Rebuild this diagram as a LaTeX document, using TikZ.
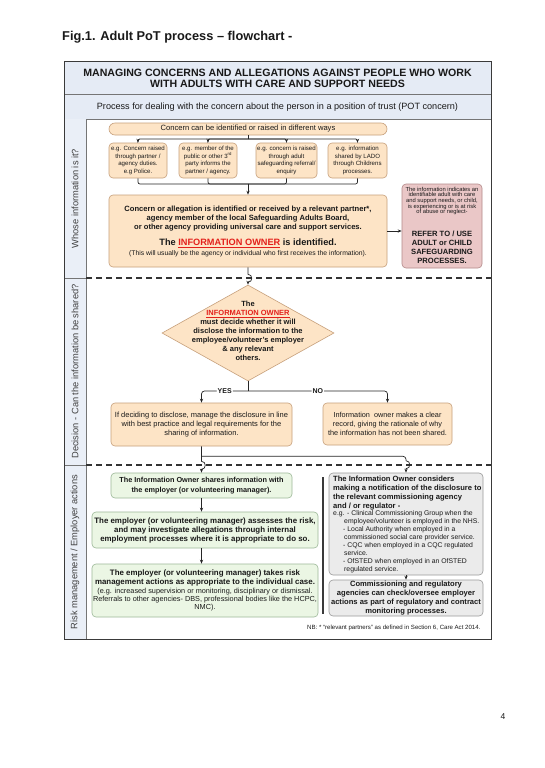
\documentclass[tikz,border=0pt]{standalone}
\usepackage{fontspec}
\setmainfont{Liberation Sans}
\usetikzlibrary{arrows.meta,calc,shapes.geometric}
\definecolor{peach}{HTML}{FDE4C6}
\definecolor{peachb}{HTML}{C7A07C}
\definecolor{pinkf}{HTML}{EAC7C7}
\definecolor{pinkb}{HTML}{B48A8A}
\definecolor{greenf}{HTML}{EBF6E4}
\definecolor{greenb}{HTML}{9CB898}
\definecolor{greyf}{HTML}{EBEBEB}
\definecolor{greyb}{HTML}{9A9A9A}
\definecolor{hdr}{HTML}{E5EBF5}
\definecolor{framec}{HTML}{3A3A3A}
\definecolor{redtxt}{HTML}{E3201B}
\newcommand{\myfs}[2]{\fontsize{#1}{#2}\selectfont}
\newcommand{\infoowner}{\textcolor{redtxt}{\underline{INFORMATION OWNER}}}
\begin{document}
\begin{tikzpicture}[x=1pt,y=-1pt,
  conn/.style={draw=black!85,line width=0.7pt},
  arr/.style={conn,-{Stealth[length=4pt,width=3.2pt]}},
  box/.style={rounded corners=4pt,line width=0.6pt,inner sep=0pt,align=center,text=black!90},
  pbox/.style={box,draw=peachb,fill=peach},
  kbox/.style={box,draw=pinkb,fill=pinkf},
  gbox/.style={box,draw=greenb,fill=greenf},
  ybox/.style={box,draw=greyb,fill=greyf},
  txt/.style={inner sep=0pt,align=center,text=black!90},
  sect/.style={draw=black!80,line width=1.3pt,dash pattern=on 6pt off 4pt},
  side/.style={txt,rotate=90,font=\myfs{9.3}{11},text=black!75},
  yn/.style={fill=white,inner sep=1pt,font=\bfseries\myfs{7}{8},text=black!90},
]
\useasboundingbox (0,0) rectangle (544,768);
\fill[white] (0,0) rectangle (544,768);

% title
\node[txt,anchor=west,font=\bfseries\myfs{12.8}{14}] (title) at (62,37) {Fig.1. Adult PoT process – flowchart -};

% header
\fill[hdr] (64,62) rectangle (491,119);
\draw[framec!70,line width=0.6pt] (64,94) -- (491,94);
\draw[framec!70,line width=0.6pt] (64,119) -- (491,119);
\node[txt,font=\bfseries\myfs{10.6}{11.5}] (hd1) at (277.5,78.5) {MANAGING CONCERNS AND ALLEGATIONS AGAINST PEOPLE WHO WORK\\WITH ADULTS WITH CARE AND SUPPORT NEEDS};
\node[txt,font=\myfs{9.1}{10}] (hd2) at (277.5,107) {Process for dealing with the concern about the person in a position of trust (POT concern)};

% left column
\fill[hdr!80] (64,119) rectangle (86,639);
\draw[framec!70,line width=0.6pt] (86,119) -- (86,639);
\draw[framec!70,line width=0.6pt] (64,278) -- (86,278);
\draw[framec!70,line width=0.6pt] (64,465) -- (86,465);
\node[side] (s1) at (75,198.5) {Whose information is it?};
\node[side] (s2) at (75,371.5) {Decision - Can the information be shared?};
\node[side] (s3) at (75,552) {Risk management / Employer actions};

% section separators
\draw[sect] (86,278) -- (493,278);
\draw[sect] (86,465) -- (493,465);

% ---------- section 1
\node[pbox,rounded corners=6pt,minimum width=278pt,minimum height=12pt,font=\myfs{7.6}{8}] (pill) at (248,129) {Concern can be identified or raised in different ways};
\node[pbox,minimum width=58pt,minimum height=35pt,font=\myfs{6.1}{7.6}] (b1) at (138,160.5) {e.g. Concern raised\\through partner /\\agency duties.\\e.g Police.};
\node[pbox,minimum width=58pt,minimum height=35pt,font=\myfs{6.1}{7.6}] (b2) at (208,160.5) {e.g. member of the\\public or other 3\textsuperscript{rd}\\party informs the\\partner / agency.};
\node[pbox,minimum width=61pt,minimum height=35pt,font=\myfs{6.1}{7.6}] (b3) at (286.5,160.5) {e.g. concern is raised\\through adult\\safeguarding referral/\\enquiry};
\node[pbox,minimum width=59pt,minimum height=35pt,font=\myfs{6.1}{7.6}] (b4) at (357.5,160.5) {e.g. information\\shared by LADO\\through Childrens\\processes.};

\coordinate (tb) at (248,139);
\draw[conn] (pill.south) -- (tb);
\foreach \b in {b1,b2,b3,b4}{\draw[arr,rounded corners=2pt] (tb) -| (\b.north);}

\node[pbox,minimum width=278pt,minimum height=72pt] (big) at (248,231) {};
\node[txt,font=\bfseries\myfs{7.6}{9}] (bigt1) at (248,219) {Concern or allegation is identified or received by a relevant partner*,\\agency member of the local Safeguarding Adults Board,\\or other agency providing universal care and support services.};
\node[txt,font=\bfseries\myfs{9.2}{11}] (bigt2) at (248,243.5) {The \infoowner{} is identified.};
\node[txt,font=\myfs{6.8}{7}] (bigt3) at (248,253.5) {(This will usually be the agency or individual who first receives the information).};

\coordinate (bb) at (248,184);
\foreach \b in {b1,b2,b3,b4}{\draw[conn,rounded corners=2pt] (\b.south) |- (bb);}
\draw[arr] (bb) -- (big.north);

\node[kbox,minimum width=80pt,minimum height=84pt] (pink) at (442,226) {};
\node[txt,font=\myfs{5.8}{5.6}] (pinkt1) at (442,201) {The information indicates an\\identifiable adult with care\\and support needs, or child,\\is experiencing or is at risk\\of abuse or neglect-};
\node[txt,font=\bfseries\myfs{7.6}{9}] (pinkt2) at (442,247.5) {REFER TO / USE\\ADULT or CHILD\\SAFEGUARDING\\PROCESSES.};
\draw[arr] (big.east) -- (big.east -| pink.west);

% ---------- section 2
\node[diamond,draw=peachb,fill=peach,line width=0.6pt,inner sep=0pt,minimum width=172pt,minimum height=96pt] (dia) at (248,333) {};
\node[txt,font=\bfseries\myfs{7.5}{9}] (diat) at (248,331) {The\\\infoowner\\must decide whether it will\\disclose the information to the\\employee/volunteer's employer\\\& any relevant\\others.};
\draw[arr] (big.south) -- ($(big.south)+(0,7)$) .. controls ($(big.south)+(5,7)$) and ($(big.south)+(5,15)$) .. ($(big.south)+(0,15)$) -- (dia.north);

\node[pbox,minimum width=181pt,minimum height=43pt,font=\myfs{7.5}{9}] (dl) at (201.5,424.5) {If deciding to disclose, manage the disclosure in line\\with best practice and legal requirements for the\\sharing of information.};
\node[pbox,minimum width=129pt,minimum height=42pt,font=\myfs{7.3}{9}] (dr) at (387.5,424) {Information\ \ owner makes a clear\\record, giving the rationale of why\\the information has not been shared.};

\coordinate (ynp) at (248,391);
\draw[conn] (dia.south) -- (ynp);
\draw[arr,rounded corners=3pt] (ynp) -| (dl.north) node[yn,pos=0.25] {YES};
\draw[arr,rounded corners=3pt] (ynp) -| (dr.north) node[yn,pos=0.25] {NO};

% ---------- section 3
\node[gbox,minimum width=181pt,minimum height=25pt,font=\bfseries\myfs{7.3}{10}] (g1) at (201.5,485.5) {The Information Owner shares information with\\the employer (or volunteering manager).};
\node[gbox,minimum width=226pt,minimum height=36pt,font=\bfseries\myfs{7.9}{9}] (g2) at (205,530) {The employer (or volunteering manager) assesses the risk,\\and may investigate allegations through internal\\employment processes where it is appropriate to do so.};
\node[gbox,minimum width=226pt,minimum height=53pt] (g3) at (205,590.5) {};
\node[txt,font=\bfseries\myfs{7.9}{9}] (g3t1) at (205,577.5) {The employer (or volunteering manager) takes risk\\management actions as appropriate to the individual case.};
\node[txt,font=\myfs{7.3}{8}] (g3t2) at (205,600) {(e.g. increased supervision or monitoring, disciplinary or dismissal.\\Referrals to other agencies- DBS, professional bodies like the HCPC,\\NMC).};

\draw[arr] (dl.south) -- ($(dl.south)+(0,15)$) .. controls ($(dl.south)+(5,15)$) and ($(dl.south)+(5,23)$) .. ($(dl.south)+(0,23)$) -- (g1.north);
\draw[arr] (g1.south) -- (g1.south |- g2.north);
\draw[arr] (g1.south |- g2.south) -- (g1.south |- g3.north);

\draw[framec,line width=1.3pt] (323,477) -- (323,614);

\node[ybox,minimum width=154pt,minimum height=102pt] (gr1) at (406,524) {};
\node[txt,anchor=west,align=left,font=\bfseries\myfs{7.6}{9}] (gr1t1) at (333,493.5) {The Information Owner considers\\making a notification of the disclosure to\\the relevant commissioning agency\\and / or regulator -};
\node[txt,anchor=west,align=left,font=\myfs{6.85}{8}] (gr1t2) at (333,542) {e.g. - Clinical Commissioning Group when the\\\hspace*{11pt}employee/volunteer is employed in the NHS.\\\hspace*{10pt}- Local Authority when employed in a\\\hspace*{11pt}commissioned social care provider service.\\\hspace*{10pt}- CQC when employed in a CQC regulated\\\hspace*{11pt}service.\\\hspace*{10pt}- OfSTED when employed in an OfSTED\\\hspace*{11pt}regulated service.};
\node[ybox,minimum width=154pt,minimum height=36pt,font=\bfseries\myfs{7.6}{9}] (gr2) at (406,598) {Commissioning and regulatory\\agencies can check/oversee employer\\actions as part of regulatory and contract\\monitoring processes.};
\draw[arr] (gr1.south) -- (gr2.north);

\coordinate (br) at ($(dl.south)+(0,10)$);
\coordinate (brr) at ($(gr1.north)+(0,-12)$);
\draw[conn,rounded corners=3pt] (br) -| (brr);
\draw[arr] (brr) .. controls ($(brr)+(5,0)$) and ($(brr)+(5,8)$) .. ($(brr)+(0,8)$) -- (gr1.north);

\node[txt,anchor=west,font=\myfs{6.1}{7}] (nb) at (307,628) {NB: * ``relevant partners'' as defined in Section 6, Care Act 2014.};

% frame
\draw[framec,line width=1pt] (64,62) rectangle (491,639);

\node[txt,font=\myfs{8.5}{9}] (pg) at (503,717) {4};
\end{tikzpicture}
\end{document}
